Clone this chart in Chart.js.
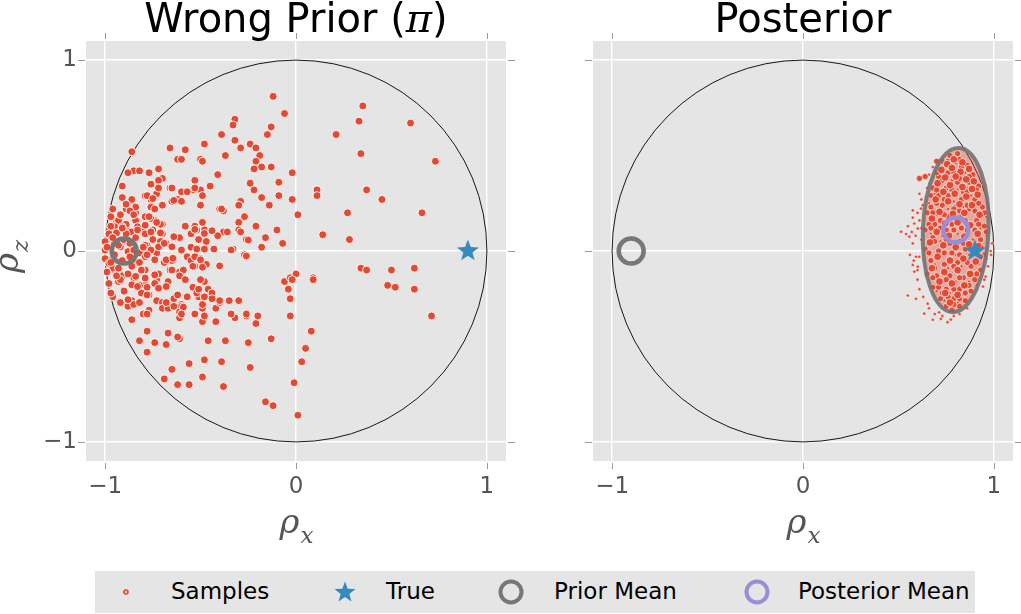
<!DOCTYPE html>
<html>
<head>
<meta charset="utf-8">
<script src="https://cdn.jsdelivr.net/npm/chart.js@4.4.0/dist/chart.umd.min.js"></script>
<style>
  body { margin: 0; background: #fff; width: 1021px; height: 614px; overflow: hidden; position: relative; font-family: "DejaVu Sans", sans-serif; }
  #wrapPrior { position: absolute; left: 0; top: 0; width: 545px; height: 565px; }
  #wrapPost { position: absolute; left: 545px; top: 0; width: 476px; height: 565px; }
  #legend { position: absolute; left: 95px; top: 571px; width: 880px; height: 42px; background: #e5e5e5; }
  #legend canvas { position: absolute; top: 6px; }
  #legend span { position: absolute; top: 0; line-height: 41px; font-size: 23px; color: #000; white-space: nowrap; }
</style>
</head>
<body>
<div id="wrapPrior"><canvas id="priorChart"></canvas></div>
<div id="wrapPost"><canvas id="postChart"></canvas></div>
<div id="legend">
  <canvas id="lgSamples" width="30" height="30" style="left:16px"></canvas><span style="left:76px">Samples</span>
  <canvas id="lgTrue" width="30" height="30" style="left:235px"></canvas><span style="left:291px">True</span>
  <canvas id="lgPrior" width="30" height="30" style="left:401px"></canvas><span style="left:459px">Prior Mean</span>
  <canvas id="lgPost" width="30" height="30" style="left:647px"></canvas><span style="left:703px">Posterior Mean</span>
</div>
<script>
// Ticks et axes
const tickVals = [-1, 0, 1];
const axisMin = -1.1, axisMax = 1.1;

// Cercle unité (rho_x, rho_z)
const unitCircle = { x: 0, y: 0, r: 1 };

// Points de référence
const trueVal = [0.9, 0];
const priorMean = [-0.9, 0];
const postMean = [0.8, 0.11];

// Ellipse de covariance du posterior (centre, demi-axes, inclinaison en rad)
const postEllipse = { x: 0.80, y: 0.11, rx: 0.172, ry: 0.43, tilt: 0.04 };

// Echantillons du prior
const priorSamples = [
  [-0.12,0.81],[-0.06,0.72],[0.35,0.76],[0.33,0.68],[0.60,0.67],[0.21,0.61],[0.34,0.51],[0.73,0.47],[0.37,0.32],[0.45,0.27],
  [0.66,0.20],[0.27,0.20],[0.11,0.32],[0.11,0.29],[0.14,0.085],[0.28,0.06],[0.01,0.19],[-0.02,0.41],[-0.02,0.27],[-0.09,0.36],
  [-0.09,0.29],[-0.10,0.11],[-0.07,0.04],[-0.13,0.44],[-0.13,0.65],[-0.15,0.61],[-0.32,0.69],[-0.33,0.66],[-0.39,0.61],[-0.32,0.58],
  [-0.24,0.56],[-0.21,0.54],[-0.29,0.54],[-0.19,0.50],[-0.21,0.47],[-0.18,0.44],[-0.22,0.43],[-0.24,0.36],[-0.22,0.32],[-0.18,0.28],
  [-0.14,0.24],[-0.29,0.26],[-0.30,0.24],[-0.27,0.18],[-0.30,0.15],[-0.21,0.13],[-0.30,0.11],[-0.16,0.07],[-0.26,0.06],[-0.18,0.02],
  [-0.33,0.01],[-0.27,-0.02],[-0.48,0.56],[-0.50,0.48],[-0.49,0.47],[-0.37,0.50],[-0.41,0.40],[-0.45,0.34],[-0.50,0.32],[-0.53,0.37],
  [-0.54,0.32],[-0.58,0.31],[-0.60,0.31],[-0.66,0.54],[-0.58,0.53],[-0.62,0.48],[-0.60,0.48],[-0.66,0.33],[-0.70,0.38],[-0.72,0.43],
  [-0.77,0.41],[-0.85,0.42],[-0.82,0.42],[-0.88,0.41],[-0.86,0.52],[-0.91,0.34],[-0.91,0.28],[-0.86,0.27],[-0.89,0.24],[-0.79,0.29],
  [-0.76,0.27],[-0.76,0.35],[-0.72,0.37],[-0.73,0.30],[-0.70,0.24],[-0.65,0.26],[-0.62,0.27],[-0.76,0.23],[-0.74,0.22],[-0.50,0.24],
  [-0.40,0.22],[-0.38,0.21],[-0.49,0.29],[-0.49,0.15],[-0.53,0.13],[-0.58,0.13],[-0.52,0.11],[-0.48,0.11],[-0.44,0.11],[-0.38,0.10],
  [-0.36,0.10],[-0.41,0.08],[-0.55,0.09],[-0.51,0.06],[-0.47,0.05],[-0.43,0.01],[-0.48,0.01],[-0.55,0.02],[-0.52,0.01],[-0.60,0.00],
  [-0.64,0.07],[-0.61,0.07],[-0.57,-0.03],[-0.55,-0.05],[-0.50,-0.04],[-0.47,-0.07],[-0.40,-0.08],[-0.53,-0.08],[-0.64,-0.04],[-0.68,0.04],
  [-0.70,0.09],[-0.74,0.16],[-0.75,0.11],[-0.70,0.14],[-0.80,0.10],[-0.78,0.03],[-0.75,0.06],[-0.71,0.05],[-0.73,-0.01],[-0.79,0.00],
  [-0.69,-0.06],[-0.65,-0.05],[-0.66,-0.10],[-0.61,-0.11],[-0.84,0.20],[-0.89,0.22],[-0.84,0.16],[-0.79,0.18],[-0.76,0.17],[-0.94,0.15],
  [-0.89,0.13],[-0.97,0.18],[-0.98,0.11],[-0.99,0.06],[-1.00,0.00],[-0.82,-0.01],[-0.84,-0.06],[-0.79,-0.10],[-0.98,-0.05],[-0.95,-0.10],
  [-0.91,-0.13],[-0.85,-0.14],[-0.83,-0.19],[-0.79,-0.18],[-0.73,-0.15],[-0.67,-0.16],[-0.72,-0.12],[-0.58,-0.15],[-0.54,-0.19],[-0.51,-0.22],
  [-0.46,-0.20],[-0.62,-0.23],[-0.06,-0.16],[-0.03,-0.14],[0.00,-0.12],[0.09,-0.14],[-0.04,-0.20],[0.34,-0.09],[0.37,-0.10],[0.50,-0.10],
  [0.62,-0.09],[0.48,-0.18],[0.52,-0.19],[0.62,-0.20],[0.71,-0.34],[-0.03,-0.25],[-0.03,-0.34],[0.08,-0.42],[0.05,-0.51],[0.03,-0.58],
  [-0.01,-0.69],[-0.16,-0.79],[-0.12,-0.81],[0.01,-0.86],[-0.13,-0.46],[-0.25,-0.48],[-0.24,-0.61],[-0.21,-0.38],[-0.20,-0.34],[-0.26,-0.34],
  [-0.32,-0.35],[-0.37,-0.47],[-0.39,-0.58],[-0.38,-0.71],[-0.46,-0.47],[-0.42,-0.37],[-0.42,-0.30],[-0.44,-0.22],[-0.40,-0.27],[-0.35,-0.26],
  [-0.30,-0.26],[-0.49,-0.37],[-0.49,-0.30],[-0.49,-0.28],[-0.48,-0.57],[-0.49,-0.66],[-0.56,-0.59],[-0.56,-0.70],[-0.62,-0.70],[-0.65,-0.62],
  [-0.69,-0.67],[-0.61,-0.46],[-0.62,-0.45],[-0.68,-0.49],[-0.67,-0.43],[-0.74,-0.48],[-0.78,-0.42],[-0.78,-0.53],[-0.82,-0.47],[-0.86,-0.36],
  [-0.80,-0.33],[-0.77,-0.31],[-0.88,-0.29],[-0.92,-0.27],[-0.86,-0.26],[-0.85,-0.28],[-0.96,-0.24],[-0.97,-0.22],[-0.93,-0.16],[-0.81,-0.22],
  [-0.77,-0.23],[-0.73,-0.26],[-0.70,-0.27],[-0.70,-0.30],[-0.67,-0.30],[-0.64,-0.25],[-0.62,-0.23],[-0.60,-0.28],[-0.60,-0.29],[-0.61,-0.32],
  [-0.61,-0.35],[-0.57,-0.24],[-0.51,-0.24],[-0.52,-0.22],[-0.48,-0.16],[-0.72,-0.19],[-0.68,-0.19],[-0.74,-0.17],[-0.78,-0.19],[-0.82,-0.18],
  [-0.02,-0.15],[0.09,-0.15],[-0.76,0.35],[-0.72,0.33],[-0.65,0.33],[-0.53,0.33],[-0.45,0.34],[-0.57,0.31],[-0.49,0.29],[-0.64,0.265],
  [-0.60,0.26],[-0.78,0.29],[-0.75,0.275],[-0.89,0.245],[-0.84,0.23],[-0.70,0.24],[-0.30,0.24],[-0.39,0.22],[-0.24,0.355],[-0.87,0.21],
  [-0.85,0.19],[-0.77,0.18],[-0.71,0.14],[-0.73,0.15],[-0.93,0.16],[-0.89,0.14],[-0.95,0.127],[-0.91,0.127],[-0.83,0.127],[-0.79,0.135],
  [-0.98,0.09],[-0.94,0.095],[-0.86,0.10],[-0.79,0.09],[-0.76,0.10],[-0.71,0.095],[-0.64,0.075],[-0.58,0.13],[-0.53,0.113],[-0.48,0.092],
  [-0.44,0.106],[-0.29,0.10],[-0.25,0.057],[-0.34,0.005],[-0.40,-0.078],[-0.26,-0.026],[-1.0,0.005],[-1.0,0.049],[-1.0,-0.04],[-0.98,-0.065],
  [-0.96,-0.09],[-0.95,0.04],[-0.92,0.022],[-0.88,-0.003],[-0.85,0.005],[-0.79,0.03],[-0.76,0.005],[-0.72,0.022],[-0.69,0.04],[-0.65,0.022],
  [-0.60,0.005],[-0.79,-0.03],[-0.74,-0.046],[-0.68,-0.046],[-0.645,-0.038],[-0.53,-0.03],[-0.50,-0.046],[-0.54,-0.08],[-0.49,-0.085],[-0.59,-0.10],
  [-0.65,-0.10],[-0.61,-0.13],[-0.58,-0.15],[-0.88,-0.116],[-0.84,-0.133],[-0.79,-0.142],[-0.74,-0.125],[-0.92,-0.15],[-0.86,-0.177],[-0.83,-0.186],
  [-0.78,-0.23],[-0.72,-0.195],[-0.68,-0.186],[-0.51,-0.20],[-0.48,-0.24],[-0.50,-0.15],[-0.44,-0.25],[-0.40,-0.26],[-0.35,-0.26],[-0.88,-0.255],
  [-0.82,-0.27],[-0.68,-0.27],[-0.64,-0.29],[-0.59,-0.294],[-0.78,-0.33],[-0.60,-0.33],[-0.53,-0.33],[-0.48,-0.34],[-0.34,-0.33],[-0.26,-0.33],
  [-0.93,0.03],[-0.90,0.06],[-0.87,0.04],[-0.95,-0.02],[-0.91,-0.05],[-0.87,-0.03],[-0.84,0.07],[-0.82,-0.06],[-0.96,0.07],[-0.89,0.09],
  [-0.86,-0.08],[-0.93,-0.09],[-0.99,0.02],[-0.97,-0.06],[-0.80,0.02],[-0.78,-0.02],[-0.83,0.11],[-0.91,0.12],[-0.88,-0.12],[-0.81,-0.10],
  [-0.97,0.13],[-0.94,-0.13],[-0.99,-0.11],[-0.92,0.19],[-0.96,0.22],[-0.98,-0.17],[-0.90,-0.21]
];

// Echantillons du posterior, par poids (fort / moyen / faible)
const postLarge = [
  [0.79,0.48],[0.755,0.455],[0.835,0.465],[0.725,0.425],[0.78,0.435],[0.825,0.415],[0.87,0.43],[0.745,0.385],[0.80,0.39],[0.855,0.375],
  [0.895,0.365],[0.705,0.355],[0.77,0.345],[0.835,0.335],[0.885,0.325],[0.735,0.31],[0.795,0.30],[0.855,0.285],[0.915,0.295],[0.695,0.27],
  [0.76,0.26],[0.82,0.245],[0.885,0.24],[0.715,0.205],[0.785,0.195],[0.845,0.20],[0.925,0.19],[0.675,0.17],[0.745,0.145],[0.81,0.15],
  [0.875,0.135],[0.70,0.10],[0.765,0.08],[0.845,0.075],[0.915,0.09],[0.665,0.045],[0.735,0.03],[0.80,0.02],[0.87,0.035],[0.705,-0.03],
  [0.77,-0.05],[0.84,-0.04],[0.905,-0.055],[0.675,-0.09],[0.74,-0.11],[0.81,-0.10],[0.875,-0.12],[0.715,-0.16],[0.78,-0.17],[0.845,-0.18],
  [0.745,-0.22],[0.81,-0.23],[0.77,-0.27]
];
const postMedium = [
  [0.81,0.51],[0.77,0.50],[0.73,0.47],[0.86,0.45],[0.76,0.41],[0.83,0.44],[0.89,0.40],[0.71,0.39],[0.68,0.33],[0.75,0.33],
  [0.81,0.36],[0.87,0.36],[0.92,0.34],[0.71,0.29],[0.76,0.29],[0.84,0.31],[0.90,0.27],[0.67,0.23],[0.73,0.24],[0.80,0.23],
  [0.87,0.22],[0.94,0.23],[0.65,0.20],[0.69,0.14],[0.76,0.18],[0.83,0.18],[0.91,0.16],[0.95,0.13],[0.64,0.11],[0.72,0.12],
  [0.79,0.11],[0.86,0.11],[0.93,0.06],[0.68,0.07],[0.75,0.06],[0.82,0.05],[0.89,0.00],[0.64,0.01],[0.71,0.00],[0.78,-0.01],
  [0.85,0.01],[0.95,-0.02],[0.67,-0.05],[0.74,-0.07],[0.81,-0.06],[0.88,-0.08],[0.93,-0.10],[0.65,-0.12],[0.70,-0.13],[0.77,-0.13],
  [0.84,-0.14],[0.90,-0.15],[0.68,-0.19],[0.75,-0.20],[0.82,-0.20],[0.88,-0.21],[0.72,-0.25],[0.79,-0.25],[0.85,-0.26],[0.75,-0.29],
  [0.82,-0.29],[0.78,-0.31],[0.70,0.47],[0.64,0.39],[0.61,0.38],
  [0.76,0.47],[0.82,0.48],[0.70,0.41],[0.79,0.41],[0.87,0.39],[0.73,0.37],[0.82,0.38],[0.91,0.32],[0.70,0.32],[0.78,0.32],
  [0.86,0.31],[0.67,0.29],[0.74,0.27],[0.83,0.27],[0.92,0.25],[0.70,0.25],[0.79,0.22],[0.86,0.24],[0.68,0.20],[0.74,0.19],
  [0.82,0.21],[0.90,0.21],[0.95,0.20],[0.66,0.14],[0.72,0.16],[0.78,0.14],[0.85,0.16],[0.92,0.14],[0.67,0.12],[0.75,0.11],
  [0.83,0.12],[0.90,0.11],[0.96,0.10],[0.69,0.05],[0.77,0.04],[0.84,0.04],[0.92,0.03],[0.66,-0.01],[0.74,-0.01],[0.82,-0.02],
  [0.93,-0.03],[0.69,-0.09],[0.79,-0.08],[0.86,-0.06],[0.91,-0.12],[0.68,-0.14],[0.75,-0.15],[0.82,-0.14],[0.87,-0.18],[0.71,-0.19],
  [0.79,-0.20],[0.85,-0.22],[0.76,-0.24],[0.82,-0.25],[0.79,-0.28],[0.73,-0.22]
];
const postSmall = [
  [0.80,0.46],[0.74,0.44],[0.85,0.41],[0.78,0.37],[0.72,0.35],[0.86,0.33],[0.81,0.32],[0.69,0.30],[0.75,0.28],[0.88,0.29],
  [0.93,0.26],[0.66,0.25],[0.79,0.26],[0.84,0.23],[0.70,0.19],[0.76,0.22],[0.90,0.20],[0.96,0.18],[0.65,0.15],[0.79,0.17],
  [0.86,0.15],[0.93,0.12],[0.67,0.09],[0.73,0.08],[0.81,0.09],[0.89,0.06],[0.96,0.08],[0.65,0.03],[0.72,0.05],[0.80,-0.02],
  [0.87,-0.02],[0.94,0.02],[0.69,-0.07],[0.76,-0.09],[0.83,-0.08],[0.92,-0.07],[0.66,-0.15],[0.73,-0.15],[0.80,-0.16],[0.87,-0.16],
  [0.70,-0.21],[0.77,-0.22],[0.84,-0.23],[0.74,-0.26],[0.81,-0.27],[0.79,-0.30],[0.91,-0.18],[0.96,-0.04],
  [0.575,0.175],[0.583,0.144],[0.514,0.101],[0.540,0.089],[0.557,0.075],[0.575,0.040],[0.601,0.118],[0.575,-0.073],[0.601,-0.082],[0.609,-0.030],
  [0.583,-0.108],[0.549,-0.233],[0.592,-0.250],[0.653,-0.276],[0.635,-0.328],[0.713,-0.321],[0.722,-0.356],[0.757,-0.373],[0.774,-0.359],[0.957,-0.134],
  [0.943,-0.186],[0.983,0.0],[0.991,0.040],[0.575,0.213],[0.618,0.222],[0.627,0.240],[0.592,-0.03],[0.61,0.30],[0.62,0.06],[0.60,-0.15],
  [0.55,0.13],[0.57,0.10],[0.59,0.08],[0.60,0.20],[0.61,0.16],[0.62,0.12],[0.56,-0.02],[0.58,-0.05],[0.60,-0.10],[0.61,-0.20],
  [0.63,-0.24],[0.66,-0.30],[0.69,-0.33],[0.68,-0.36],[0.73,-0.34],[0.79,-0.34],[0.82,-0.33],[0.86,-0.30],[0.62,0.27],[0.65,0.33],
  [0.66,0.40],[0.68,0.44],[0.97,-0.08],[0.95,-0.15],[0.985,-0.02]
];

const red = '#E24A33';

function fmtTick(v) {
  return v < 0 ? '\u2212' + Math.abs(v) : String(v);
}

// Etoile pleine (marqueur "True")
function starCanvas(size, rOut, rIn, color) {
  const c = document.createElement('canvas');
  c.width = size; c.height = size;
  drawStar(c.getContext('2d'), size / 2, size / 2, rOut, rIn, color);
  return c;
}
function drawStar(ctx, cx, cy, rOut, rIn, color) {
  ctx.beginPath();
  for (let i = 0; i < 10; i++) {
    const r = i % 2 === 0 ? rOut : rIn;
    const a = -Math.PI / 2 + i * Math.PI / 5;
    ctx.lineTo(cx + r * Math.cos(a), cy + r * Math.sin(a));
  }
  ctx.closePath();
  ctx.fillStyle = color;
  ctx.fill();
}
const starImg = starCanvas(26, 11.5, 4.8, '#348ABD');

function ellipsePath(chart, e) {
  const { x, y } = chart.scales;
  const cx = x.getPixelForValue(e.x), cy = y.getPixelForValue(e.y);
  const rx = x.getPixelForValue(e.x + e.rx) - cx;
  const ry = cy - y.getPixelForValue(e.y + e.ry);
  chart.ctx.beginPath();
  chart.ctx.ellipse(cx, cy, rx, ry, e.tilt || 0, 0, Math.PI * 2);
}

function drawRho(ctx, x, y, sub) {
  ctx.font = 'italic 34px "DejaVu Serif"';
  const w1 = ctx.measureText('\u03C1').width;
  ctx.font = 'italic 23px "DejaVu Serif"';
  const w2 = ctx.measureText(sub).width;
  const x0 = x - (w1 + w2) / 2;
  ctx.textAlign = 'left';
  ctx.textBaseline = 'alphabetic';
  ctx.fillStyle = '#555555';
  ctx.font = 'italic 34px "DejaVu Serif"';
  ctx.fillText('\u03C1', x0, y);
  ctx.font = 'italic 23px "DejaVu Serif"';
  ctx.fillText(sub, x0 + w1 + 1, y + 10);
}

// Décor du panneau: fond, cercle, ellipse, ticks, titre, labels
const panelDecor = {
  id: 'panelDecor',
  beforeDraw(chart) {
    const { ctx, chartArea: a } = chart;
    ctx.save();
    ctx.fillStyle = '#e5e5e5';
    ctx.fillRect(a.left, a.top, a.right - a.left, a.bottom - a.top);
    ctx.restore();
  },
  beforeDatasetsDraw(chart, args, o) {
    const { ctx } = chart;
    ctx.save();
    ellipsePath(chart, { x: unitCircle.x, y: unitCircle.y, rx: unitCircle.r, ry: unitCircle.r });
    ctx.strokeStyle = '#000';
    ctx.lineWidth = 0.9;
    ctx.stroke();
    if (o.ellipse) {
      ellipsePath(chart, o.ellipse);
      ctx.fillStyle = 'rgba(226,74,51,0.4)';
      ctx.fill();
    }
    ctx.restore();
  },
  afterDatasetDraw(chart, args, o) {
    if (o.ellipse && args.index === o.edgeAfter) {
      const { ctx } = chart;
      ctx.save();
      ellipsePath(chart, o.ellipse);
      ctx.strokeStyle = 'rgba(115,115,115,0.9)';
      ctx.lineWidth = 4;
      ctx.stroke();
      ctx.restore();
    }
  },
  afterDraw(chart, args, o) {
    const { ctx, chartArea: a, scales: { x, y } } = chart;
    ctx.save();
    // ticks sur les quatre côtés
    ctx.strokeStyle = '#9a9a9a';
    ctx.lineWidth = 1;
    ctx.beginPath();
    tickVals.forEach(v => {
      const px = Math.round(x.getPixelForValue(v)) + 0.5;
      const py = Math.round(y.getPixelForValue(v)) + 0.5;
      ctx.moveTo(px, a.top - 8); ctx.lineTo(px, a.top - 2);
      ctx.moveTo(px, a.bottom + 2); ctx.lineTo(px, a.bottom + 8);
      ctx.moveTo(a.left - 8, py); ctx.lineTo(a.left - 1, py);
      ctx.moveTo(a.right + 2, py); ctx.lineTo(a.right + 9, py);
    });
    ctx.stroke();

    // titre
    const cx = (a.left + a.right) / 2;
    const parts = o.title;
    let total = 0;
    parts.forEach(p => {
      ctx.font = p[1] ? 'italic 40px "DejaVu Serif"' : '40px "DejaVu Sans"';
      p.w = ctx.measureText(p[0]).width;
      total += p.w;
    });
    let tx = cx - total / 2;
    ctx.fillStyle = '#000';
    ctx.textAlign = 'left';
    ctx.textBaseline = 'alphabetic';
    parts.forEach(p => {
      ctx.font = p[1] ? 'italic 40px "DejaVu Serif"' : '40px "DejaVu Sans"';
      ctx.fillText(p[0], tx, 32);
      tx += p.w;
    });

    // labels d'axes
    drawRho(ctx, cx, 533, 'x');
    if (o.yLabel) {
      ctx.save();
      ctx.translate(18, (a.top + a.bottom) / 2 + 6);
      ctx.rotate(-Math.PI / 2);
      drawRho(ctx, 0, 0, 'z');
      ctx.restore();
    }
    ctx.restore();
  }
};

function toXY(list) {
  return list.map(p => ({ x: p[0], y: p[1] }));
}

function axisOptions(isX, showLabels, fitSize) {
  return {
    type: 'linear',
    min: axisMin,
    max: axisMax,
    afterBuildTicks: s => { s.ticks = tickVals.map(v => ({ value: v })); },
    afterFit: s => {
      if (isX) { s.height = fitSize; s.paddingLeft = 0; s.paddingRight = 0; }
      else { s.width = fitSize; s.paddingTop = 0; s.paddingBottom = 0; }
    },
    grid: { color: '#ffffff', lineWidth: 1.4, drawTicks: false },
    border: { display: false },
    ticks: {
      display: showLabels,
      font: { family: 'DejaVu Sans', size: 23 },
      color: '#555555',
      padding: isX ? 12 : 9,
      maxRotation: 0,
      autoSkip: false,
      callback: v => fmtTick(v)
    }
  };
}

function markerSets() {
  return [
    { label: 'Prior Mean', data: toXY([priorMean]), pointStyle: 'circle', pointRadius: 12.5,
      backgroundColor: 'rgba(0,0,0,0)', borderColor: '#777777', borderWidth: 4.5, order: 3 },
    { label: 'True', data: toXY([trueVal]), pointStyle: starImg, pointRadius: 12, order: 1 }
  ];
}

const baseOptions = (padRight, yWidth, yLabels, decor) => ({
  responsive: true,
  maintainAspectRatio: false,
  animation: false,
  events: [],
  layout: { autoPadding: false, padding: { top: 41, right: padRight, left: 0, bottom: 0 } },
  plugins: { legend: { display: false }, tooltip: { enabled: false }, panelDecor: decor },
  scales: {
    x: axisOptions(true, true, 104),
    y: axisOptions(false, yLabels, yWidth)
  }
});

// Panneau gauche: prior
new Chart(document.getElementById('priorChart'), {
  type: 'scatter',
  data: {
    datasets: [
      { label: 'Samples', data: toXY(priorSamples), pointRadius: 4, backgroundColor: red,
        borderColor: '#ffffff', borderWidth: 0.9, order: 10 },
      ...markerSets()
    ]
  },
  options: baseOptions(39, 86, true, {
    title: [['Wrong Prior (', false], ['\u03C0', true], [')', false]],
    yLabel: true
  }),
  plugins: [panelDecor]
});

// Panneau droit: posterior
new Chart(document.getElementById('postChart'), {
  type: 'scatter',
  data: {
    datasets: [
      { label: 'Samples small', data: toXY(postSmall), pointRadius: 1.6, backgroundColor: red,
        borderColor: '#ffffff', borderWidth: 0.4, order: 12 },
      { label: 'Samples medium', data: toXY(postMedium), pointRadius: 3.1, backgroundColor: red,
        borderColor: '#ffffff', borderWidth: 0.6, order: 11 },
      { label: 'Samples large', data: toXY(postLarge), pointRadius: 3.9, backgroundColor: red,
        borderColor: '#ffffff', borderWidth: 0.7, order: 10 },
      ...markerSets(),
      { label: 'Posterior Mean', data: toXY([postMean]), pointStyle: 'circle', pointRadius: 12.5,
        backgroundColor: 'rgba(0,0,0,0)', borderColor: '#988ED5', borderWidth: 4.5, order: 2 }
    ]
  },
  options: baseOptions(8, 48, false, {
    title: [['Posterior', false]],
    ellipse: postEllipse,
    edgeAfter: 2,
    yLabel: false
  }),
  plugins: [panelDecor]
});

// Légende commune
(function () {
  let c = document.getElementById('lgSamples').getContext('2d');
  c.beginPath(); c.arc(15, 15, 2.8, 0, Math.PI * 2);
  c.fillStyle = red; c.fill();
  c.beginPath(); c.arc(15, 15, 1.2, 0, Math.PI * 2);
  c.fillStyle = '#f3c9c1'; c.fill();
  drawStar(document.getElementById('lgTrue').getContext('2d'), 15, 15.5, 11, 4.6, '#348ABD');
  [['lgPrior', '#777777'], ['lgPost', '#988ED5']].forEach(([id, col]) => {
    const g = document.getElementById(id).getContext('2d');
    g.beginPath(); g.arc(15, 15, 10.5, 0, Math.PI * 2);
    g.strokeStyle = col; g.lineWidth = 4; g.stroke();
  });
})();
</script>
</body>
</html>
